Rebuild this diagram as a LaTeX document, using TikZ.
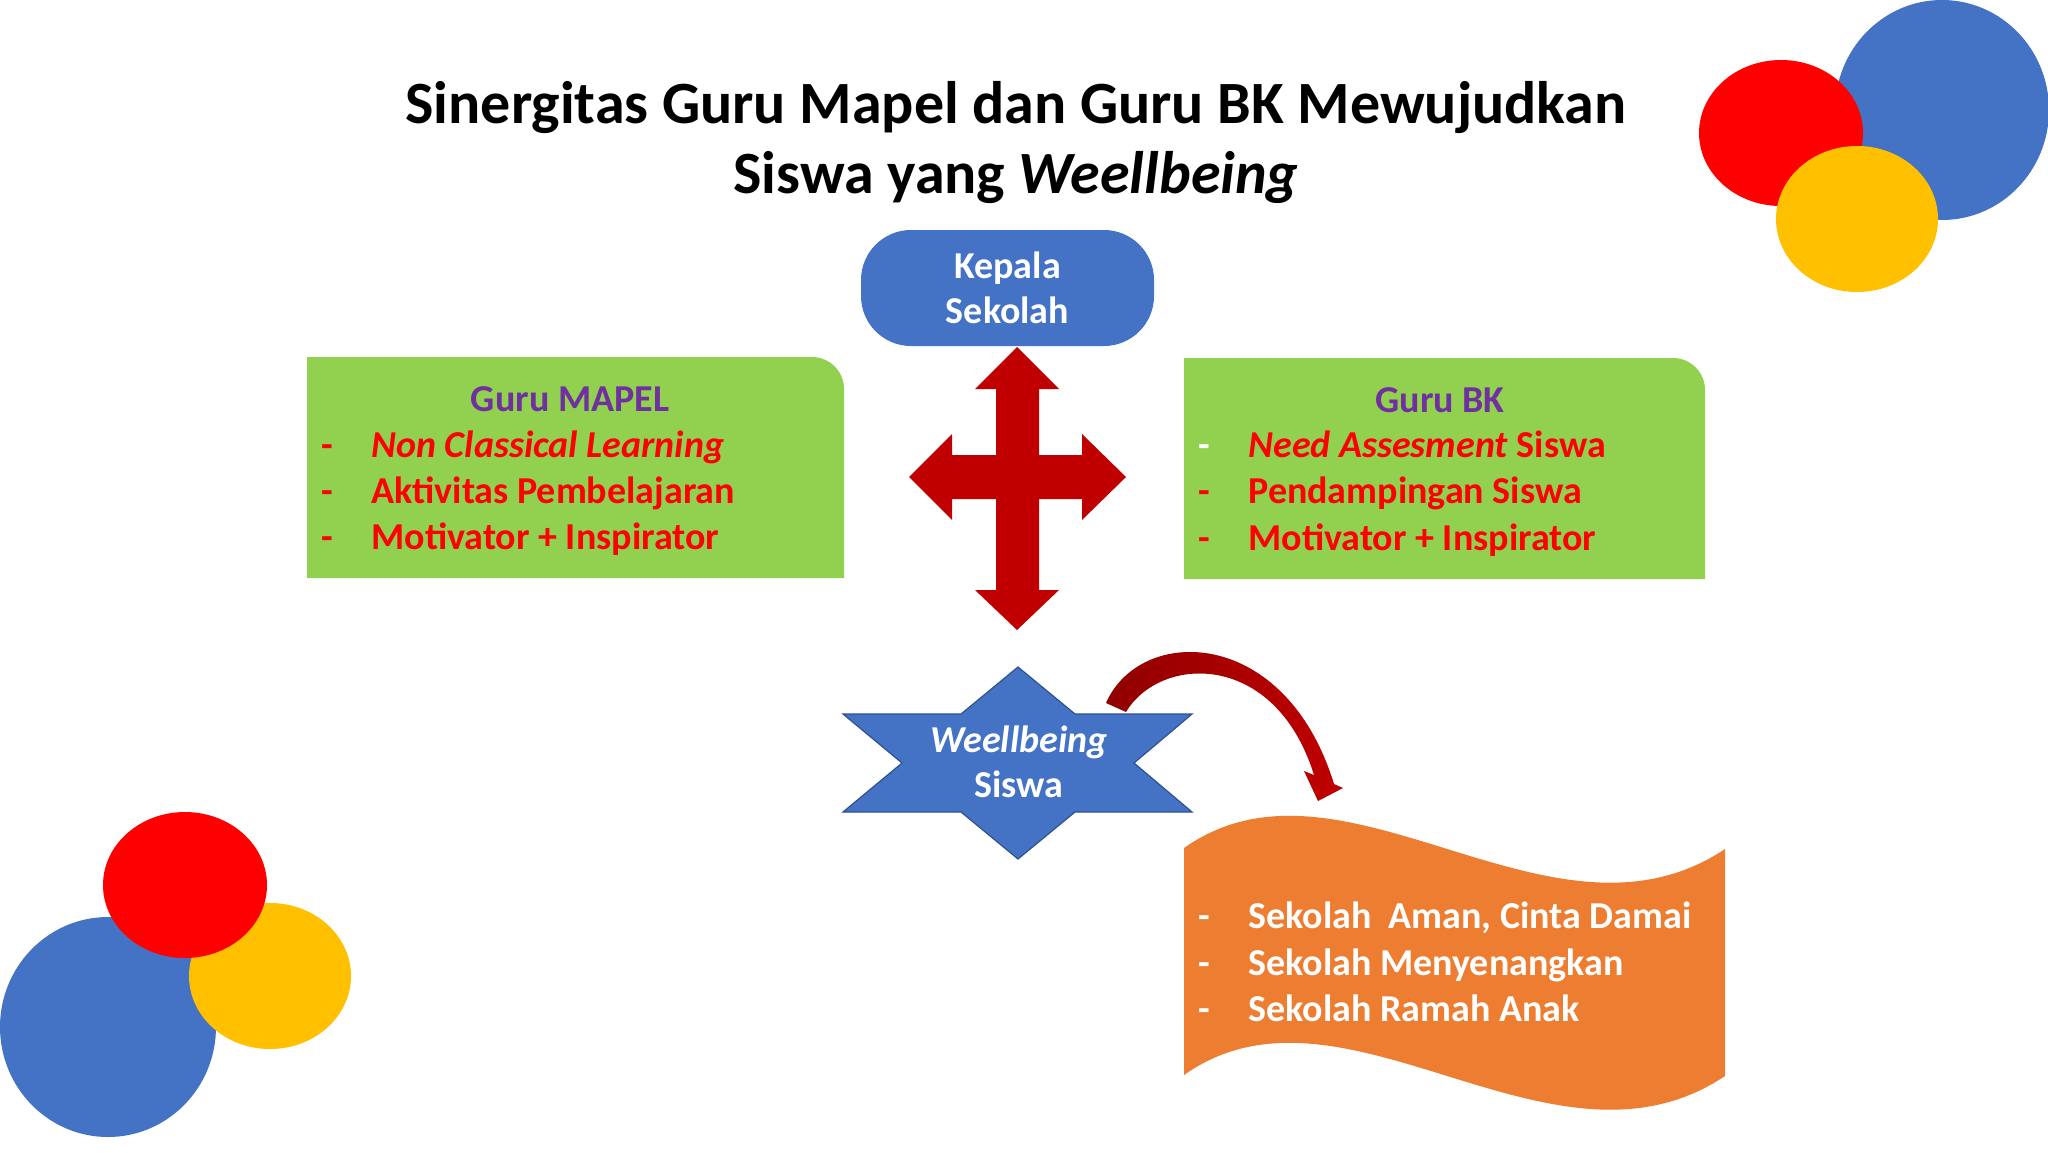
\documentclass[tikz,border=0pt]{standalone}
\usepackage{fontspec}
\setmainfont{Carlito}

\definecolor{slideblue}{HTML}{4472C4}
\definecolor{starborder}{HTML}{2F528F}
\definecolor{boxgreen}{HTML}{92D050}
\definecolor{itemred}{HTML}{FF0000}
\definecolor{headpurple}{HTML}{7030A0}
\definecolor{arrowred}{HTML}{C00000}
\definecolor{bannerorange}{HTML}{ED7D31}
\definecolor{dotyellow}{HTML}{FFC000}

\newcommand{\itemdash}{\makebox[25pt][l]{-}}

\tikzset{
  titletext/.style={anchor=base, inner sep=0pt, font=\fontsize{30}{36}\selectfont\bfseries},
  headtext/.style={anchor=base, inner sep=0pt, text=headpurple, font=\fontsize{19}{22}\selectfont\bfseries},
  itemtext/.style={anchor=base west, inner sep=0pt, text=itemred, font=\fontsize{19}{22}\selectfont\bfseries},
  kepalabox/.style={fill=slideblue, text=white, rounded corners=25pt, minimum width=146.5pt,
    minimum height=58pt, inner sep=0pt, align=center, font=\fontsize{19}{22.5}\selectfont\bfseries},
  startext/.style={text=white, inner sep=0pt, align=center, font=\fontsize{19}{22.5}\selectfont\bfseries}
}

\begin{document}
\begin{tikzpicture}[x=0.5pt,y=-0.5pt]
%%Canvas
\useasboundingbox (0,0) rectangle (2048,1152);
\fill[white] (0,0) rectangle (2048,1152);

%%Dots top right
\fill[slideblue] (1942,110) ellipse [x radius=107, y radius=110];
\fill[itemred] (1781,133) ellipse [x radius=82, y radius=73];
\fill[dotyellow] (1857,219) ellipse [x radius=81, y radius=73];
%%Dots bottom left
\fill[slideblue] (108,1027) ellipse [x radius=108, y radius=110];
\fill[dotyellow] (270,976) ellipse [x radius=81, y radius=73];
\fill[itemred] (185,885) ellipse [x radius=82, y radius=73];

%%Title
\node[titletext] (title) at (1016,123) {Sinergitas Guru Mapel dan Guru BK Mewujudkan};
\node[titletext] (subtitle) at (1016,193) {Siswa yang \textit{Weellbeing}};

%%Kepala Sekolah
\node[kepalabox] (kepala) at (1007.5,288) {Kepala\\Sekolah};

%%Green boxes
\fill[boxgreen] (307,578) -- (307,357) -- (812,357) .. controls (829.7,357) and (844,371.3) .. (844,389) -- (844,578) -- cycle;
\fill[boxgreen] (1184,579) -- (1184,358) -- (1673,358) .. controls (1690.7,358) and (1705,372.3) .. (1705,390) -- (1705,579) -- cycle;

%%Guru MAPEL
\node[headtext] (mapel) at (570,411) {Guru MAPEL};
\node[itemtext] (mapel1) at (321,457) {\itemdash\textit{Non Classical Learning}};
\node[itemtext] (mapel2) at (321,503) {\itemdash Aktivitas Pembelajaran};
\node[itemtext] (mapel3) at (321,549) {\itemdash Motivator + Inspirator};

%%Guru BK
\node[headtext] (bk) at (1440,412) {Guru BK};
\node[itemtext] (bk1) at (1198,457) {\makebox[25pt][l]{\textcolor{white}{-}}\textit{Need Assesment} Siswa};
\node[itemtext] (bk2) at (1198,503) {\itemdash Pendampingan Siswa};
\node[itemtext] (bk3) at (1198,550) {\itemdash Motivator + Inspirator};

%%Cross arrow
\fill[arrowred] (1017,347) -- (1059,389) -- (1039,389) -- (1039,455) -- (1082,455) -- (1082,434)
  -- (1126,477) -- (1082,520) -- (1082,499) -- (1039,499) -- (1039,590) -- (1059,590)
  -- (1017,630) -- (975,590) -- (996,590) -- (996,499) -- (952,499) -- (952,520)
  -- (909,477) -- (952,434) -- (952,455) -- (996,455) -- (996,389) -- (975,389) -- cycle;

%%Star
\filldraw[fill=slideblue, draw=starborder, line width=0.6pt] (843,714) -- (961,714) -- (1018,667)
  -- (1075,714) -- (1192,714) -- (1134,763) -- (1192,812) -- (1075,812) -- (1018,859)
  -- (961,812) -- (843,812) -- (902,763) -- cycle;
\node[startext] (wellbeing) at (1019,762) {\textit{Weellbeing}\\Siswa};

%%Curved arrow
\shade[left color=arrowred!75!black, right color=arrowred] (1106,703) .. controls (1140,625) and (1285,625) .. (1334,784)
  -- (1343,788) -- (1318,801) -- (1304,771) -- (1314,775)
  .. controls (1275,650) and (1160,655) .. (1126,712) -- cycle;

%%Banner
\fill[bannerorange] (1184,848) .. controls (1344,735) and (1551,965) .. (1725,849) -- (1725,1076)
  .. controls (1551,1192) and (1344,962) .. (1184,1075) -- cycle;
\node[itemtext, text=white] (goal1) at (1198,928) {\itemdash Sekolah\ \ Aman, Cinta Damai};
\node[itemtext, text=white] (goal2) at (1198,975) {\itemdash Sekolah Menyenangkan};
\node[itemtext, text=white] (goal3) at (1198,1021) {\itemdash Sekolah Ramah Anak};

\end{tikzpicture}
\end{document}
